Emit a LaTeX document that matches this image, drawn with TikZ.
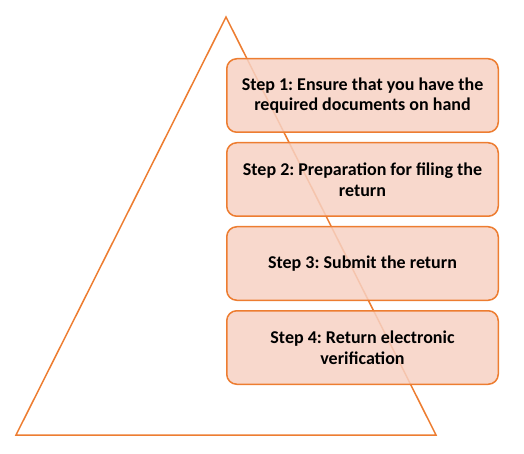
\documentclass[tikz,border=0pt]{standalone}
\usepackage{fontspec}
\setmainfont{Carlito}
\frenchspacing
\usetikzlibrary{positioning}
\definecolor{steporange}{HTML}{ED7D31}
\definecolor{stepfill}{HTML}{F7D1C3}
\tikzset{
  pyramidline/.style={draw=steporange, line width=1.5pt, line join=miter},
  stepbox/.style={draw=steporange, line width=1.5pt, rounded corners=10pt, fill=stepfill, fill opacity=0.85, text opacity=1, minimum width=271.5pt, minimum height=73.5pt, align=center, font=\bfseries\fontsize{18}{20.5}\selectfont}
}
\begin{document}
\begin{tikzpicture}[x=1pt, y=-1pt, node distance=9pt]
  \useasboundingbox (0,0) rectangle (524,454);
  \coordinate (apex) at (226,17);
  \coordinate (baseleft) at (16,435);
  \coordinate (baseright) at (436,435);
  \draw[pyramidline] (apex) -- (baseleft) -- (baseright) -- cycle;
  \node[stepbox] (step1) at (362.5,95.5) {Step 1: Ensure that you have the\\required documents on hand};
  \node[stepbox, below=of step1] (step2) {Step 2: Preparation for filing the\\return};
  \node[stepbox, below=of step2] (step3) {Step 3: Submit the return};
  \node[stepbox, below=of step3] (step4) {Step 4: Return electronic\\verification};
\end{tikzpicture}
\end{document}
